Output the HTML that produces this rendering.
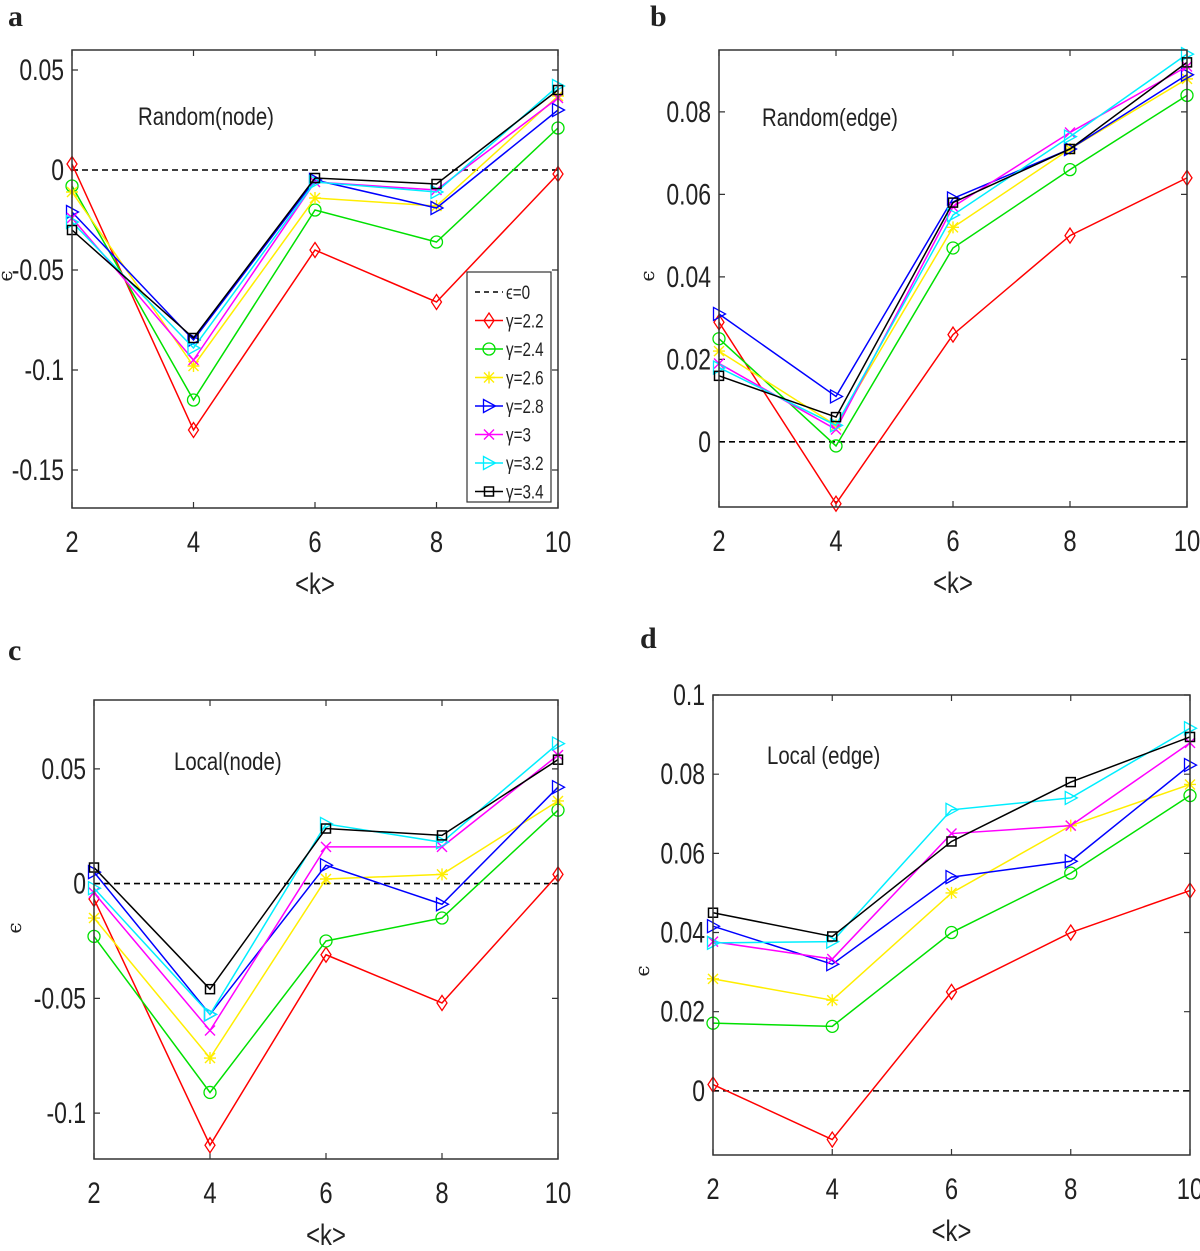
<!DOCTYPE html>
<html><head><meta charset="utf-8"><style>
body{margin:0;background:#fff}
svg text{font-family:"Liberation Sans",sans-serif;fill:#222}
</style></head><body>
<svg id="fig" width="1200" height="1246" viewBox="0 0 1200 1246" xmlns="http://www.w3.org/2000/svg"></svg>
<script>
const ks = [2,4,6,8,10];
const seriesNames = ["γ=2.2","γ=2.4","γ=2.6","γ=2.8","γ=3","γ=3.2","γ=3.4"];
const seriesColors = ["#ff0000","#00e000","#ffee00","#0000ff","#ff00ff","#00eeff","#000000"];
const seriesMarkers = ["diamond","circle","star","tri","x","tri","square"];

const aRed=[0.003,-0.13,-0.04,-0.066,-0.002];
const aGreen=[-0.008,-0.115,-0.02,-0.036,0.021];
const aYellow=[-0.011,-0.098,-0.014,-0.018,0.037];
const aBlue=[-0.021,-0.085,-0.005,-0.019,0.03];
const aMagenta=[-0.024,-0.095,-0.006,-0.01,0.036];
const aCyan=[-0.026,-0.089,-0.006,-0.011,0.042];
const aBlack=[-0.03,-0.084,-0.004,-0.007,0.04];

const bRed=[0.029,-0.015,0.026,0.05,0.064];
const bGreen=[0.025,-0.001,0.047,0.066,0.084];
const bYellow=[0.022,0.004,0.052,0.071,0.088];
const bBlue=[0.031,0.011,0.059,0.071,0.089];
const bMagenta=[0.019,0.003,0.057,0.075,0.091];
const bCyan=[0.018,0.004,0.055,0.074,0.094];
const bBlack=[0.016,0.006,0.058,0.071,0.092];

const cRed=[-0.0067,-0.114,-0.031,-0.052,0.004];
const cGreen=[-0.023,-0.091,-0.025,-0.015,0.032];
const cYellow=[-0.015,-0.076,0.002,0.004,0.036];
const cBlue=[0.005,-0.057,0.008,-0.009,0.042];
const cMagenta=[-0.004,-0.064,0.016,0.016,0.056];
const cCyan=[-0.002,-0.057,0.026,0.018,0.061];
const cBlack=[0.007,-0.046,0.024,0.021,0.054];

const dRed=[0.0016,-0.0123,0.025,0.040,0.0506];
const dGreen=[0.0171,0.0163,0.040,0.055,0.0746];
const dYellow=[0.0283,0.0229,0.050,0.067,0.0774];
const dBlue=[0.0416,0.032,0.054,0.058,0.0823];
const dMagenta=[0.0377,0.0333,0.065,0.067,0.0879];
const dCyan=[0.0374,0.0377,0.071,0.074,0.0916];
const dBlack=[0.045,0.039,0.063,0.078,0.0894];

const aTicks=[0.05,0,-0.05,-0.1,-0.15];
const aTickLabels=["0.05","0","-0.05","-0.1","-0.15"];
const bTicks=[0,0.02,0.04,0.06,0.08];
const bTickLabels=["0","0.02","0.04","0.06","0.08"];
const cTicks=[0.05,0,-0.05,-0.1];
const cTickLabels=["0.05","0","-0.05","-0.1"];
const dTicks=[0,0.02,0.04,0.06,0.08,0.1];
const dTickLabels=["0","0.02","0.04","0.06","0.08","0.1"];
const xTickLabels=["2","4","6","8","10"];

const NS="http://www.w3.org/2000/svg";
const fig=document.getElementById('fig');
function mk(tag,attrs,parent){const e=document.createElementNS(NS,tag);for(const k in attrs)e.setAttribute(k,attrs[k]);(parent||fig).appendChild(e);return e;}

function marker(g,type,x,y,color){
  const r=6.5;let e;
  if(type==="diamond")e=mk('polygon',{points:`${x},${y-r-1} ${x+r-1.5},${y} ${x},${y+r+1} ${x-r+1.5},${y}`,fill:'none',stroke:color,'stroke-width':1.3},g);
  else if(type==="circle")e=mk('circle',{cx:x,cy:y,r:r-0.5,fill:'none',stroke:color,'stroke-width':1.3},g);
  else if(type==="square")e=mk('rect',{x:x-4.5,y:y-4.5,width:9,height:9,fill:'none',stroke:color,'stroke-width':1.5},g);
  else if(type==="tri")e=mk('polygon',{points:`${x-r+1},${y-r} ${x+r},${y} ${x-r+1},${y+r}`,fill:'none',stroke:color,'stroke-width':1.3},g);
  else if(type==="x")e=mk('path',{d:`M${x-5},${y-5}L${x+5},${y+5}M${x-5},${y+5}L${x+5},${y-5}`,stroke:color,'stroke-width':1.4},g);
  else e=mk('path',{d:`M${x-5},${y-5}L${x+5},${y+5}M${x-5},${y+5}L${x+5},${y-5}M${x},${y-6}L${x},${y+6}M${x-6},${y}L${x+6},${y}`,stroke:color,'stroke-width':1.4},g);
  
  
}

function panel(id,box,ylim,ticks,tickLabels,series,title,titlePos,letter,letterPos,legend,ylabPos){
  const [L,T,R,B]=box;
  const g=mk('g',{});
  
  
  const xs=v=>L+(v-2)/8*(R-L);
  const ys=v=>T+(ylim[1]-v)/(ylim[1]-ylim[0])*(B-T);
  const lt=mk('text',{x:letterPos[0],y:letterPos[1],'font-size':30,'font-weight':'bold',fill:'#111',style:'font-family:"Liberation Serif",serif'},g);
  lt.textContent=letter;
  
  
  ks.forEach((k,i)=>{
    const x=xs(k);
    mk('path',{d:`M${x},${B}V${B-6}M${x},${T}V${T+6}`,stroke:'#333','stroke-width':1.2},g);
    const t=mk('text',{transform:`translate(${x},${B+44}) scale(0.85,1.05)`,'text-anchor':'middle','font-size':28},g);
    t.textContent=xTickLabels[i];
    
    
  });
  ticks.forEach((v,i)=>{
    const y=ys(v);
    mk('path',{d:`M${L},${y}H${L+6}M${R},${y}H${R-6}`,stroke:'#333','stroke-width':1.2},g);
    const t=mk('text',{transform:`translate(${L-8},${y+10}) scale(0.82,1.05)`,'text-anchor':'end','font-size':28},g);
    t.textContent=tickLabels[i];
    
    
  });
  const z=mk('line',{x1:L,x2:R,y1:ys(0),y2:ys(0),stroke:'#000','stroke-width':1.6,'stroke-dasharray':'6,4'},g);
  
  
  series.forEach((vals,si)=>{
    const sg=mk('g',{},g);
    
    
    const pts=vals.map((v,i)=>xs(ks[i])+','+ys(v)).join(' ');
    const pl=mk('polyline',{points:pts,fill:'none',stroke:seriesColors[si],'stroke-width':1.5},sg);
    
    
    vals.forEach((v,i)=>marker(sg,seriesMarkers[si],xs(ks[i]),ys(v),seriesColors[si]));
  });
  const fr=mk('rect',{x:L,y:T,width:R-L,height:B-T,fill:'none',stroke:'#333','stroke-width':1.5},g);
  
  
  const tt=mk('text',{transform:`translate(${titlePos[0]},${titlePos[1]}) scale(0.85,1.05)`,'font-size':24},g);
  tt.textContent=title;
  
  
  const xl=mk('text',{transform:`translate(${(L+R)/2},${B+86}) scale(0.85,1.05)`,'text-anchor':'middle','font-size':28},g);
  xl.textContent='<k>';
  
  
  const yl=mk('text',{transform:`translate(${ylabPos[0]},${ylabPos[1]}) rotate(-90)`,'text-anchor':'middle','font-size':20,style:'font-family:"DejaVu Serif",serif'},g);
  yl.textContent='ϵ';
  
  
  if(legend){
    const lg=mk('g',{},g);
    
    
    const [lx,ly,lw,lh]=legend;
    mk('rect',{x:lx,y:ly,width:lw,height:lh,fill:'#fff',stroke:'#333','stroke-width':1.2},lg);
    const rowH=28.5;
    const e0=mk('line',{x1:lx+8,x2:lx+36,y1:ly+20,y2:ly+20,stroke:'#000','stroke-width':1.6,'stroke-dasharray':'5,4'},lg);
    
    
    const t0=mk('text',{transform:`translate(${lx+39},${ly+27}) scale(0.8,1)`,'font-size':19},lg);
    t0.textContent='ϵ=0';
    
    
    seriesNames.forEach((n,i)=>{
      const y=ly+20+rowH*(i+1);
      const ln=mk('line',{x1:lx+8,x2:lx+36,y1:y,y2:y,stroke:seriesColors[i],'stroke-width':1.5},lg);
      
      
      marker(lg,seriesMarkers[i],lx+22,y,seriesColors[i]);
      const t=mk('text',{transform:`translate(${lx+39},${y+7}) scale(0.8,1)`,'font-size':19},lg);
      t.textContent=n;
      
      
    });
  }
}

panel('a',[72,50,558,508],[-0.169,0.06],aTicks,aTickLabels,[aRed,aGreen,aYellow,aBlue,aMagenta,aCyan,aBlack],'Random(node)',[138,125],'a',[8,26],[467,272,84,230],[12,276]);
panel('b',[719,50,1187,507],[-0.0158,0.095],bTicks,bTickLabels,[bRed,bGreen,bYellow,bBlue,bMagenta,bCyan,bBlack],'Random(edge)',[762,126],'b',[650,26],null,[654,276]);
panel('c',[94,700,558,1159],[-0.12,0.08],cTicks,cTickLabels,[cRed,cGreen,cYellow,cBlue,cMagenta,cCyan,cBlack],'Local(node)',[174,770],'c',[8,660],null,[21,928]);
panel('d',[713,695,1190,1155],[-0.0162,0.1],dTicks,dTickLabels,[dRed,dGreen,dYellow,dBlue,dMagenta,dCyan,dBlack],'Local (edge)',[767,764],'d',[640,648],null,[649,971]);
</script>
</body></html>
